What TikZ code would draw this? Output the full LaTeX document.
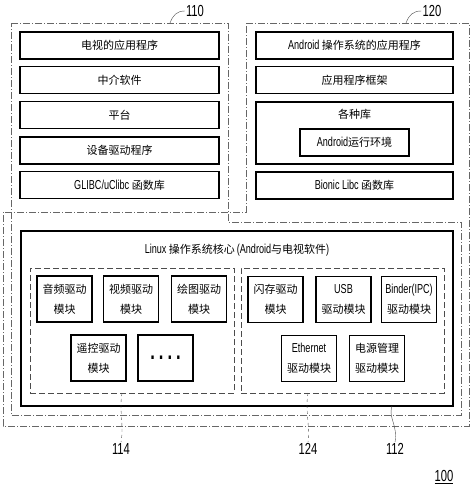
\documentclass[tikz,border=0pt]{standalone}
\usepackage{fontspec}
\setmainfont{Noto Sans CJK SC}
\newfontfamily\en[FakeStretch=0.7,Scale=1.18]{Liberation Sans}
\newfontfamily\tagfont[FakeStretch=0.7]{Liberation Sans}
\usetikzlibrary{positioning}

\begin{document}
\begin{tikzpicture}[x=1pt,y=-1pt,
  box/.style={draw,line width=1.4pt,inner sep=0pt,minimum width=#1,minimum height=27pt,font=\fontsize{11}{13}\selectfont},
  box/.default=199pt,
  mod/.style={draw,line width=1.4pt,inner sep=0pt,minimum width=55pt,minimum height=46pt,align=center,font=\fontsize{11}{20}\selectfont},
  grp/.style={draw=black!70,line width=0.8pt,dash pattern=on 6pt off 3pt,inner sep=0pt},
  dd/.style={draw=black!60,line width=0.7pt,dash pattern=on 7pt off 2pt on 1pt off 2pt},
  tag/.style={font=\tagfont\fontsize{16}{16}\selectfont,inner sep=1pt}]
  \useasboundingbox (0,0) rectangle (474,492);
  \draw[dd] (11,23) -- (228,23) -- (228,222) -- (461,222) -- (461,415) -- (11,415) -- cycle;
  \draw[dd] (246,23) -- (469,23) -- (469,426) -- (3,426) -- (3,212) -- (246,212) -- cycle;

  \node[box] (tvapp) at (119.5,45.5) {电视的应用程序};
  \node[box] (mid) at (119.5,80) {中介软件};
  \node[box] (plat) at (119.5,115) {平台};
  \node[box] (drv) at (119.5,150.5) {设备驱动程序};
  \node[box] (glibc) at (119.5,185) {{\en GLIBC/uClibc} 函数库};

  \node[box=197pt] (aapp) at (354.5,45.5) {{\en Android} 操作系统的应用程序};
  \node[box=197pt] (fw) at (354.5,80) {应用程序框架};
  \node[box=197pt,minimum height=62pt] (libs) at (354.5,133) {};
  \node[font=\fontsize{11}{13}\selectfont,below=4pt of libs.north] (libtxt) {各种库};
  \node[box=109pt] (art) at (354.5,142.5) {{\en Android}运行环境};
  \node[box=197pt] (bionic) at (354.5,185.5) {{\en Bionic Libc} 函数库};

  \node[draw,line width=1.4pt,inner sep=0pt,minimum width=432pt,minimum height=175pt] (kern) at (237,318.5) {};
  \node[font=\fontsize{11}{13}\selectfont,below=10pt of kern.north] (ktitle) {{\en Linux} 操作系统核心\,{\en (Android}与电视软件{\en )}};
  \node[grp,minimum width=204pt,minimum height=125pt] (tvgrp) at (132,330.5) {};
  \node[grp,minimum width=203pt,minimum height=125pt] (andgrp) at (342.5,330.5) {};

  \node[mod] (audio) at (64.5,299) {音频驱动\\模块};
  \node[mod] (video) at (131,299) {视频驱动\\模块};
  \node[mod] (gfx) at (199,299) {绘图驱动\\模块};
  \node[mod] (remote) at (98.5,358) {遥控驱动\\模块};
  \node[mod] (more) at (165.5,358) {{\en\fontsize{20}{20}\selectfont\bfseries .\hspace{4pt}.\hspace{4pt}.\hspace{4pt}.}};

  \node[mod] (flash) at (275.5,299.5) {闪存驱动\\模块};
  \node[mod] (usb) at (343.5,299.5) {{\en USB}\\驱动模块};
  \node[mod] (binder) at (409,299.5) {{\en Binder(IPC)}\\驱动模块};
  \node[mod] (eth) at (309,358.5) {{\en Ethernet}\\驱动模块};
  \node[mod] (power) at (377,358.5) {电源管理\\驱动模块};

  \node[tag] (n110) at (195,11) {110};
  \node[tag] (n120) at (432,11) {120};
  \node[tag] (n114) at (121,449) {114};
  \node[tag] (n124) at (308,449) {124};
  \node[tag] (n112) at (395,449) {112};
  \node[tag] (n100) at (444,477) {\underline{100}};

  \coordinate (c110) at (170,23);
  \coordinate (c120) at (406,23);
  \coordinate (c114) at (122,393);
  \coordinate (c124) at (308,393);
  \coordinate (c112) at (392,406);
  \draw[black!70,thin] (c110) .. controls (173,15) and (177,11) .. (n110.west);
  \draw[black!70,thin] (c120) .. controls (409,15) and (413,11) .. (n120.west);
  \draw[black!70,thin,dashed] (c114) .. controls (119,410) and (124,425) .. (n114.north);
  \draw[black!70,thin,dashed] (c124) .. controls (305,410) and (310,425) .. (n124.north);
  \draw[black!70,thin] (c112) .. controls (388,418) and (398,425) .. (n112.north);
\end{tikzpicture}
\end{document}
